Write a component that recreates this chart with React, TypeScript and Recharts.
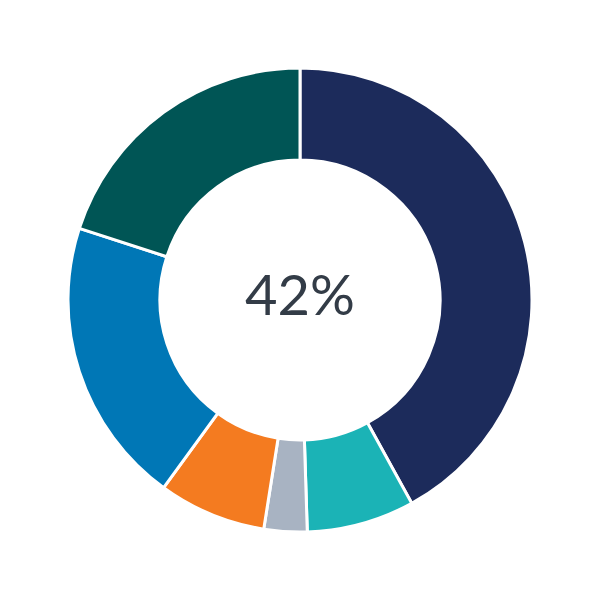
import { PieChart, Pie, Cell } from 'recharts';

const segmentNames = ['Navy', 'Teal', 'Gray', 'Orange', 'Blue', 'Green'];
const segmentValues = [42, 7.5, 3, 7.5, 20, 20];
const segmentColors = ['#1c2b5b', '#1bb3b6', '#a8b3c2', '#f47b20', '#0077b6', '#005555'];
const centerLabel = '42%';

const data = segmentNames.map((name, i) => ({ name, value: segmentValues[i] }));

export default function App() {
  return (
    <div style={{ position: 'absolute', left: 0, top: 0, width: 600, height: 600 }}>
      <PieChart width={600} height={600} margin={{ top: 0, right: 0, bottom: 0, left: 0 }}>
        <Pie
          data={data}
          dataKey="value"
          nameKey="name"
          cx={300}
          cy={300}
          innerRadius={140}
          outerRadius={232}
          startAngle={90}
          endAngle={-270}
          stroke="#ffffff"
          strokeWidth={3}
          isAnimationActive={false}
        >
          {data.map((d, i) => (
            <Cell key={d.name} fill={segmentColors[i]} />
          ))}
        </Pie>
        <text
          x={300}
          y={293}
          textAnchor="middle"
          dominantBaseline="central"
          fontFamily="Lato, sans-serif"
          fontSize={56}
          fill="#333c47"
        >
          {centerLabel}
        </text>
      </PieChart>
    </div>
  );
}
